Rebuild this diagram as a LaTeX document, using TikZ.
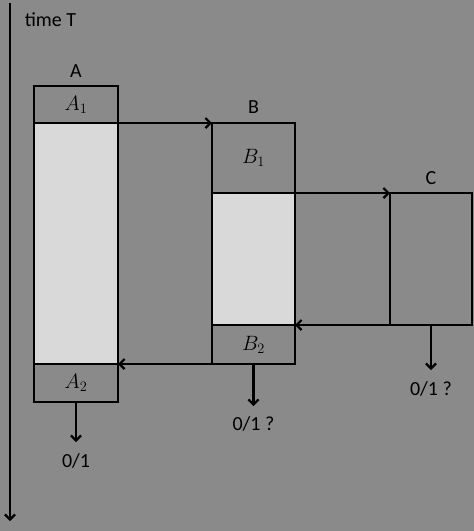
\documentclass[tikz,border=0pt]{standalone}
\usepackage{fontspec}
\setmainfont{Carlito}
\usetikzlibrary{positioning,arrows.meta}
\definecolor{bggray}{RGB}{138,138,138}
\definecolor{cellfill}{RGB}{217,217,217}
\begin{document}
\begin{tikzpicture}[x=1pt, y=-1pt, line width=2.2pt, >={Straight Barb[length=5pt,width=10pt]},
  font=\fontsize{20}{24}\selectfont,
  box/.style = {draw, rectangle, inner sep=0pt, outer sep=0pt},
  lbl/.style = {inner sep=0pt, outer sep=0pt, text height=13pt, text depth=0pt}]
\useasboundingbox[fill=bggray] (0,0) rectangle (474,531);

\coordinate (ttop) at (10,3);
\coordinate (tend) at (10,521);
\node[lbl] (time) at (50.5,19.5) {time T};

\node[box, minimum width=84pt, minimum height=37pt] (A1) at (76,104.5) {$A_1$};
\node[box, fill=cellfill, minimum width=84pt, minimum height=241pt, below=0pt of A1] (A) {};
\node[box, minimum width=84pt, minimum height=38pt, below=0pt of A] (A2) {$A_2$};
\node[lbl, above=9pt of A1] (labA) {A};

\node[box, minimum width=83pt, minimum height=70pt] (B1) at (253.5,158) {$B_1$};
\node[box, fill=cellfill, minimum width=83pt, minimum height=132pt, below=0pt of B1] (B) {};
\node[box, minimum width=83pt, minimum height=39pt, below=0pt of B] (B2) {$B_2$};
\node[lbl, above=10pt of B1] (labB) {B};

\node[box, minimum width=82pt, minimum height=132pt] (C) at (431,259) {};
\node[lbl, above=9pt of C] (labC) {C};

\node[lbl, below=52pt of A2] (outA) {0/1};
\node[lbl, below=53pt of B2] (outB) {0/1 ?};
\node[lbl, below=57pt of C] (outC) {0/1 ?};

\draw[->] (ttop) -- (tend);
\draw[->] (A.north east) -- (B1.north west);
\draw[->] (B.north east) -- (C.north west);
\draw[->] (C.south west) -- (B.south east);
\draw[->] (B2.south west) -- (A.south east);
\draw[->, shorten >=12pt] (A2.south) -- (outA.north);
\draw[->, shorten >=11pt] (B2.south) -- (outB.north);
\draw[->, shorten >=12pt] (C.south) -- (outC.north);
\end{tikzpicture}
\end{document}
